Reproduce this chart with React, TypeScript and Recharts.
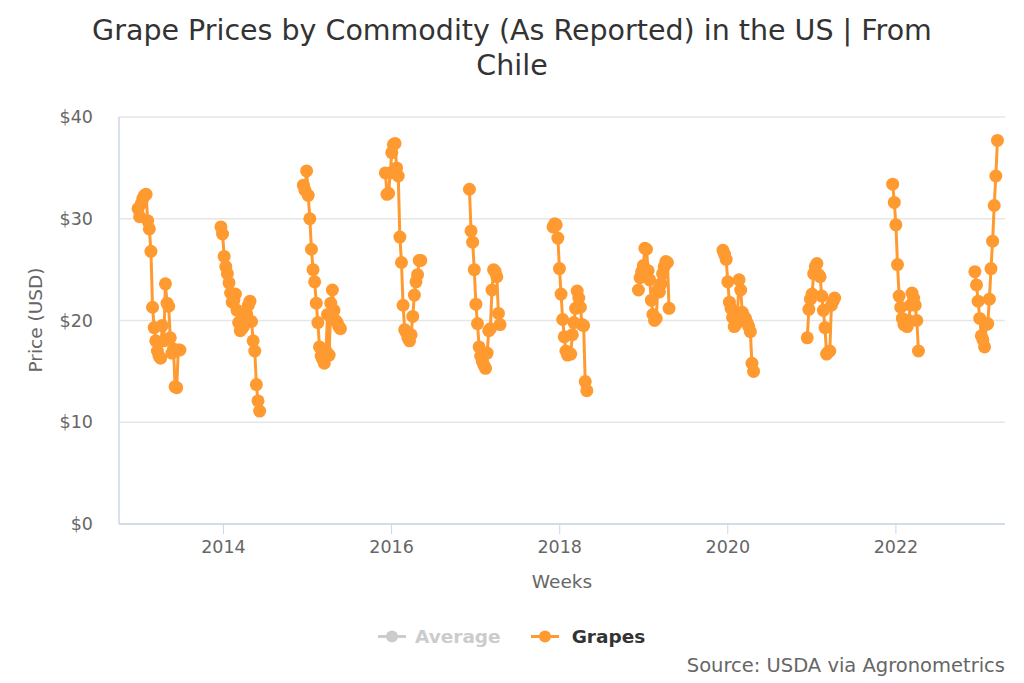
import React from "react";
import { LineChart, Line, XAxis, YAxis, CartesianGrid } from "recharts";

// Weekly grape prices (USD) from Chile, one array per shipping season.
const SEASON_STARTS: string[] = [
  "2012-12-26",
  "2013-12-21",
  "2014-12-14",
  "2015-12-05",
  "2016-12-05",
  "2017-12-03",
  "2018-12-09",
  "2019-12-11",
  "2020-12-12",
  "2021-12-18",
  "2022-12-10",
];

const PRICES_2013 = [31.0, 30.2, 31.5, 32.0, 32.3, 32.4, 29.8, 29.0, 26.8, 21.3, 19.3, 18.0, 17.0, 16.5, 16.3, 19.5, 18.0, 23.6, 21.7, 21.4, 18.3, 16.8, 17.2, 13.5, 13.4, 17.1, 17.1];
const PRICES_2014 = [29.2, 28.5, 26.3, 25.3, 24.6, 23.7, 22.7, 21.8, 22.0, 22.6, 21.0, 19.8, 19.0, 19.2, 19.4, 20.2, 20.6, 21.5, 21.9, 19.9, 18.0, 17.0, 13.7, 12.1, 11.1];
const PRICES_2015 = [33.3, 32.8, 34.7, 32.3, 30.0, 27.0, 25.0, 23.8, 21.7, 19.8, 17.4, 16.5, 16.2, 15.8, 17.0, 20.6, 16.6, 21.7, 23.0, 21.0, 20.0, 19.8, 19.4, 19.2];
const PRICES_2016 = [34.5, 32.4, 32.5, 34.5, 36.5, 37.3, 37.4, 35.0, 34.2, 28.2, 25.7, 21.5, 19.1, 18.8, 18.3, 18.0, 18.6, 20.4, 22.5, 23.8, 24.5, 25.9, 25.9];
const PRICES_2017 = [32.9, 28.8, 27.7, 25.0, 21.6, 19.7, 17.4, 16.5, 16.0, 15.6, 15.3, 16.8, 19.0, 19.2, 23.0, 25.0, 24.8, 24.3, 20.7, 19.6];
const PRICES_2018 = [29.2, 29.5, 29.4, 28.1, 25.1, 22.6, 20.1, 18.4, 17.0, 16.6, 16.8, 16.7, 18.6, 19.8, 21.2, 22.9, 22.2, 21.3, 19.6, 19.5, 14.0, 13.1];
const PRICES_2019 = [23.0, 24.2, 24.8, 25.4, 27.1, 27.0, 24.9, 24.0, 22.0, 20.6, 20.0, 20.2, 23.0, 22.8, 23.6, 24.6, 25.3, 25.8, 25.7, 21.2];
const PRICES_2020 = [26.9, 26.5, 26.0, 23.8, 21.8, 21.2, 20.3, 19.4, 19.6, 20.6, 24.0, 23.0, 20.8, 20.4, 20.2, 19.8, 19.4, 18.9, 15.8, 15.0];
const PRICES_2021 = [18.3, 21.1, 22.1, 22.6, 24.6, 25.3, 25.6, 24.5, 24.3, 22.4, 21.0, 19.3, 16.7, 16.9, 17.0, 21.5, 21.9, 22.2];
const PRICES_2022 = [33.4, 31.6, 29.4, 25.5, 22.4, 21.3, 20.2, 19.6, 19.6, 19.4, 20.0, 21.5, 22.7, 22.2, 21.5, 20.0, 17.0];
const PRICES_2023 = [24.8, 23.5, 21.9, 20.2, 18.5, 18.1, 17.4, 19.6, 19.7, 22.1, 25.1, 27.8, 31.3, 34.2, 37.7];

const SEASON_PRICES: number[][] = [
  PRICES_2013, PRICES_2014, PRICES_2015, PRICES_2016, PRICES_2017, PRICES_2018,
  PRICES_2019, PRICES_2020, PRICES_2021, PRICES_2022, PRICES_2023,
];

const YEAR_TICKS = [2014, 2016, 2018, 2020, 2022];
const PRICE_TICKS = [0, 10, 20, 30, 40];
const X_DOMAIN: [number, number] = [2012.757, 2023.298];

const GRAPE_COLOR = "#ff9a30";
const FONT = "'DejaVu Sans', sans-serif";

const WEEK = 7 / 365.25;

function toDecimalYear(iso: string): number {
  const [y, m, d] = iso.split("-").map(Number);
  const start = Date.UTC(y, 0, 1);
  const end = Date.UTC(y + 1, 0, 1);
  return y + (Date.UTC(y, m - 1, d) - start) / (end - start);
}

type Row = { t: number; price: number | null };

// Flatten the seasons into one series, with a null row between seasons so the line breaks.
const rows: Row[] = [];
SEASON_STARTS.forEach((s, i) => {
  const t0 = toDecimalYear(s);
  const prices = SEASON_PRICES[i];
  prices.forEach((p, k) => rows.push({ t: t0 + k * WEEK, price: p }));
  rows.push({ t: t0 + prices.length * WEEK + 0.02, price: null });
});

const LegendSymbol = ({ color }: { color: string }) => (
  <svg width={28} height={14} style={{ display: "block" }}>
    <line x1={0} y1={7} x2={28} y2={7} stroke={color} strokeWidth={3} />
    <circle cx={14} cy={7} r={6} fill={color} />
  </svg>
);

export default function App() {
  return (
    <div style={{ position: "absolute", left: 0, top: 0, width: 1024, height: 683, background: "#fff", fontFamily: FONT }}>
      <div style={{ position: "absolute", left: 0, top: 13, width: 1024, textAlign: "center", color: "#333", fontSize: 28.5, lineHeight: "35px" }}>
        <div>Grape Prices by Commodity (As Reported) in the US | From</div>
        <div>Chile</div>
      </div>

      <LineChart
        width={1024}
        height={683}
        data={rows}
        margin={{ top: 117, right: 19, bottom: 129, left: 0 }}
        style={{ position: "absolute", left: 0, top: 0 }}
      >
        <CartesianGrid vertical={false} stroke="#e6e6e6" strokeWidth={1.5} />
        <XAxis
          type="number"
          dataKey="t"
          domain={X_DOMAIN}
          ticks={YEAR_TICKS}
          allowDataOverflow
          height={30}
          stroke="#ccd6eb"
          axisLine={{ stroke: "#ccd6eb", strokeWidth: 1.5 }}
          tickLine={{ stroke: "#ccd6eb" }}
          tickSize={10}
          tickMargin={7}
          tick={{ fill: "#666", fontSize: 17.5, fontFamily: FONT }}
          tickFormatter={(v: number) => String(v)}
        />
        <YAxis
          type="number"
          domain={[0, 40]}
          ticks={PRICE_TICKS}
          width={119}
          axisLine={{ stroke: "#ccd6eb", strokeWidth: 1.5 }}
          tickLine={false}
          tickSize={0}
          tickMargin={26}
          tick={{ fill: "#666", fontSize: 17.5, fontFamily: FONT }}
          tickFormatter={(v: number) => `$${v}`}
        />
        <Line
          type="linear"
          dataKey="price"
          stroke={GRAPE_COLOR}
          strokeWidth={3}
          connectNulls={false}
          dot={{ r: 6.5, fill: GRAPE_COLOR, stroke: GRAPE_COLOR, strokeWidth: 0 }}
          activeDot={false}
          isAnimationActive={false}
        />
      </LineChart>

      <div style={{ position: "absolute", left: 35, top: 320, transform: "translate(-50%, -50%) rotate(-90deg)", color: "#666", fontSize: 18.5, whiteSpace: "nowrap" }}>
        Price (USD)
      </div>
      <div style={{ position: "absolute", left: 562, top: 581, transform: "translate(-50%, -50%)", color: "#666", fontSize: 18.5, whiteSpace: "nowrap" }}>
        Weeks
      </div>

      <div style={{ position: "absolute", left: 378, top: 636, transform: "translateY(-50%)", display: "flex", alignItems: "center", fontSize: 18.5, fontWeight: "bold", whiteSpace: "nowrap" }}>
        <LegendSymbol color="#cccccc" />
        <span style={{ color: "#cccccc", marginLeft: 9 }}>Average</span>
        <span style={{ width: 30 }} />
        <LegendSymbol color={GRAPE_COLOR} />
        <span style={{ color: "#333", marginLeft: 13 }}>Grapes</span>
      </div>

      <div style={{ position: "absolute", right: 19, top: 665, transform: "translateY(-50%)", color: "#666", fontSize: 19.5, whiteSpace: "nowrap" }}>
        Source: USDA via Agronometrics
      </div>
    </div>
  );
}
